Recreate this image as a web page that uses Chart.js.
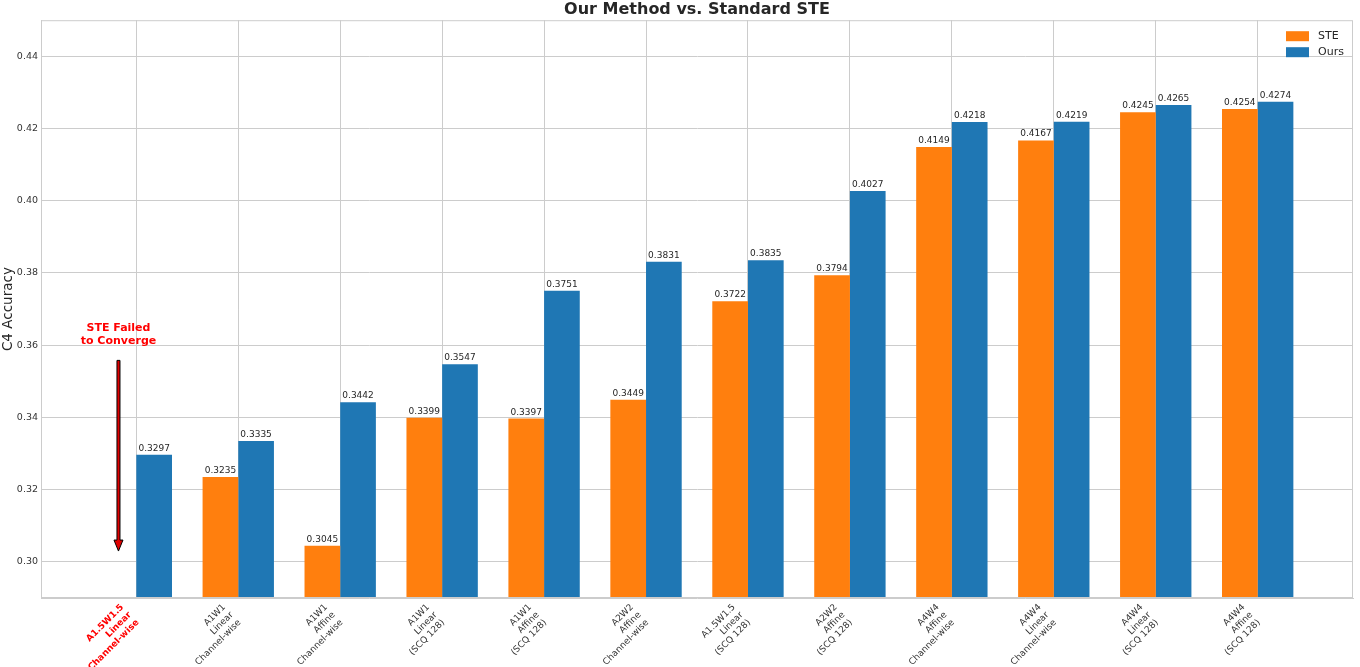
<!DOCTYPE html>
<html>
<head>
<meta charset="utf-8">
<title>Our Method vs. Standard STE</title>
<script src="https://cdn.jsdelivr.net/npm/chart.js@4.4.1/dist/chart.umd.min.js"></script>
<style>
  html, body { margin: 0; padding: 0; background: #fff; }
  #wrap { width: 1360px; height: 667px; }
</style>
</head>
<body>
<div id="wrap"><canvas id="chart" width="1360" height="667"></canvas></div>
<script>
// data
const CATEGORIES = [
    ['A1.5W1.5', 'Linear', 'Channel-wise'],
    ['A1W1', 'Linear', 'Channel-wise'],
    ['A1W1', 'Affine', 'Channel-wise'],
    ['A1W1', 'Linear', '(SCQ 128)'],
    ['A1W1', 'Affine', '(SCQ 128)'],
    ['A2W2', 'Affine', 'Channel-wise'],
    ['A1.5W1.5', 'Linear', '(SCQ 128)'],
    ['A2W2', 'Affine', '(SCQ 128)'],
    ['A4W4', 'Affine', 'Channel-wise'],
    ['A4W4', 'Linear', 'Channel-wise'],
    ['A4W4', 'Linear', '(SCQ 128)'],
    ['A4W4', 'Affine', '(SCQ 128)']
];
const STE_VALUES = [null, 0.3235, 0.3045, 0.3399, 0.3397, 0.3449, 0.3722, 0.3794, 0.4149, 0.4167, 0.4245, 0.4254];
const OURS_VALUES = [0.3297, 0.3335, 0.3442, 0.3547, 0.3751, 0.3831, 0.3835, 0.4027, 0.4218, 0.4219, 0.4265, 0.4274];
const Y_TICKS = [0.30, 0.32, 0.34, 0.36, 0.38, 0.40, 0.42, 0.44];
const FAILED_NOTE = ['STE Failed', 'to Converge'];

const ORANGE = '#ff7f0e';
const BLUE = '#1f77b4';
const GRID = '#cccccc';
const TEXT = '#262626';
const FONT = "'DejaVu Sans', sans-serif";

Chart.defaults.font.family = FONT;

// helper: point list for a bar dataset on the linear x scale
const toPoints = vals => vals.map((v, i) => ({ x: i, y: v }));

// frame around the plot area, value labels, annotation arrow, legend
const extras = {
    id: 'extras',
    afterDatasetsDraw(chart) {
        const { ctx, chartArea: a, scales: { x, y } } = chart;
        ctx.save();

        // value labels above bars
        ctx.font = `9px ${FONT}`;
        ctx.fillStyle = TEXT;
        ctx.textAlign = 'center';
        ctx.textBaseline = 'alphabetic';
        chart.data.datasets.forEach((ds, di) => {
            chart.getDatasetMeta(di).data.forEach((el, i) => {
                const v = ds.data[i].y;
                if (v == null) return;
                ctx.fillText(v.toFixed(4), el.x, el.y - 4);
            });
        });

        // "STE failed" note + arrow in the empty STE slot
        const ax = x.getPixelForValue(-0.175);
        ctx.font = `bold 11px ${FONT}`;
        ctx.fillStyle = 'red';
        ctx.textBaseline = 'middle';
        ctx.fillText(FAILED_NOTE[0], ax, y.getPixelForValue(0.3647));
        ctx.fillText(FAILED_NOTE[1], ax, y.getPixelForValue(0.3610));

        const y0 = y.getPixelForValue(0.3558);
        const y1 = y.getPixelForValue(0.3030);
        const head = 11, hw = 4.5, sw = 1.5;
        ctx.beginPath();
        ctx.moveTo(ax - sw, y0);
        ctx.lineTo(ax + sw, y0);
        ctx.lineTo(ax + sw, y1 - head);
        ctx.lineTo(ax + hw, y1 - head);
        ctx.lineTo(ax, y1);
        ctx.lineTo(ax - hw, y1 - head);
        ctx.lineTo(ax - sw, y1 - head);
        ctx.closePath();
        ctx.fillStyle = '#e00000';
        ctx.fill();
        ctx.lineWidth = 1;
        ctx.strokeStyle = '#000';
        ctx.stroke();

        // legend, upper right inside the plot
        ctx.font = `11px ${FONT}`;
        ctx.textAlign = 'left';
        chart.data.datasets.forEach((ds, di) => {
            const ly = a.top + 16 + di * 16;
            ctx.fillStyle = ds.backgroundColor;
            ctx.fillRect(a.right - 67, ly - 5, 23, 10);
            ctx.fillStyle = TEXT;
            ctx.fillText(ds.label, a.right - 35, ly);
        });

        // frame
        ctx.strokeStyle = GRID;
        ctx.lineWidth = 1;
        ctx.strokeRect(a.left + 0.5, a.top + 0.5, a.right - a.left - 1, a.bottom - a.top - 1);
        ctx.restore();
    }
};

new Chart(document.getElementById('chart'), {
    type: 'bar',
    data: {
        datasets: [
            { label: 'STE', data: toPoints(STE_VALUES), backgroundColor: ORANGE },
            { label: 'Ours', data: toPoints(OURS_VALUES), backgroundColor: BLUE }
        ]
    },
    options: {
        responsive: false,
        animation: false,
        layout: { padding: { left: 0, right: 7, top: 0, bottom: 0 } },
        datasets: { bar: { categoryPercentage: 0.7, barPercentage: 1.0 } },
        scales: {
            x: {
                type: 'linear',
                offset: false,
                min: -0.935,
                max: 11.935,
                afterBuildTicks: s => { s.ticks = CATEGORIES.map((_, i) => ({ value: i })); },
                afterFit: s => { s.height = 69; },
                grid: { color: GRID, drawTicks: false, offset: false },
                border: { color: GRID },
                ticks: {
                    autoSkip: false,
                    minRotation: 45,
                    maxRotation: 45,
                    padding: 4,
                    labelOffset: -14,
                    callback: (v, i) => CATEGORIES[i],
                    color: c => c.index === 0 ? 'red' : '#333333',
                    font: c => c.index === 0 ? { size: 9, weight: 'bold' } : { size: 9 }
                }
            },
            y: {
                min: 0.29,
                max: 0.45,
                afterBuildTicks: s => { s.ticks = Y_TICKS.map(v => ({ value: v })); },
                afterFit: s => { s.width = 41; },
                grid: { color: GRID, drawTicks: false },
                border: { color: GRID },
                ticks: {
                    padding: 3,
                    color: '#333333',
                    font: { size: 9.5 },
                    callback: v => v.toFixed(2)
                },
                title: {
                    display: true,
                    text: 'C4 Accuracy',
                    color: TEXT,
                    font: { size: 13.5 },
                    padding: 0
                }
            }
        },
        plugins: {
            legend: { display: false },
            tooltip: { enabled: false },
            title: {
                display: true,
                text: 'Our Method vs. Standard STE',
                fullSize: false,
                color: TEXT,
                font: { size: 16, weight: 'bold' },
                padding: { top: 0, bottom: 1 }
            }
        }
    },
    plugins: [extras]
});
</script>
</body>
</html>
